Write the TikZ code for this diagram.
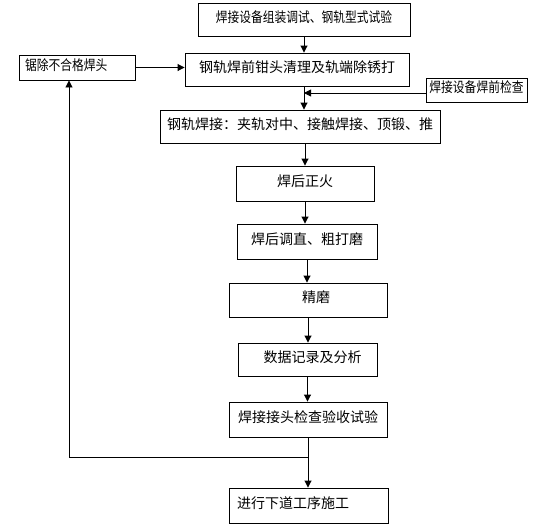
\documentclass[tikz,border=0pt]{standalone}
\usepackage{fontspec}
\setmainfont{Noto Sans CJK SC}
\newfontfamily\cjknarrow[FakeStretch=0.84]{Noto Sans CJK SC}
\usetikzlibrary{arrows.meta, positioning, calc}

\begin{document}
\begin{tikzpicture}[x=1pt, y=-1pt,
	box/.style={draw, line width=0.9pt, inner sep=0pt, text height=11pt, text depth=6pt,
		font=\fontsize{14pt}{16pt}\selectfont},
	arr/.style={line width=0.9pt, -{Triangle[length=7pt, width=7pt]}}]
	\useasboundingbox (0,0) rectangle (556,528);
	% main chain
	\node[box, minimum width=212pt, minimum height=33pt] (prep) at (304,19.5) {\cjknarrow 焊接设备组装调试、钢轨型式试验};
	\node[box, minimum width=224pt, minimum height=33pt] (clean) at (297,69.5) {钢轨焊前钳头清理及轨端除锈打};
	\node[box, minimum width=280pt, minimum height=33pt] (weld) at (300,126.5) {钢轨焊接：夹轨对中、接触焊接、顶锻、推};
	\node[box, minimum width=138pt, minimum height=35pt] (norm) at (305,183.5) {焊后正火};
	\node[box, minimum width=140pt, minimum height=35pt] (straight) at (307,241.5) {焊后调直、粗打磨};
	\node[box, minimum width=158pt, minimum height=34pt] (grind) at (308,300) {\hspace*{16pt}精磨};
	\node[box, minimum width=139pt, minimum height=33pt] (record) at (307.5,359.5) {\hspace*{10pt}数据记录及分析};
	\node[box, minimum width=158pt, minimum height=35pt] (inspect) at (308,419.5) {焊接接头检查验收试验};
	\node[box, minimum height=35pt, inner xsep=8pt, text width=143pt, align=left] (done) at (308.5,505.5) {进行下道工序施工};
	% side boxes
	\node[box, minimum height=25pt, inner xsep=6pt, text width=104pt, align=left] (cut) at (77,67.5) {\cjknarrow 锯除不合格焊头};
	\node[box, minimum width=101pt, minimum height=24pt] (check) at (476.5,90) {\cjknarrow 焊接设备焊前检查};
	\coordinate (back) at (69,457);
	% connectors
	\draw[arr] (prep.south) -- (prep.south |- clean.north);
	\draw[arr] (cut.east) -- (cut.east -| clean.west);
	\draw[arr] (clean.south -| prep.south) -- (weld.north -| prep.south);
	\draw[arr] ([yshift=-3pt]check.west) -- ([yshift=-3pt]check.west -| prep.south);
	\draw[arr] (weld.south -| norm.north) -- (norm.north);
	\draw[arr] (norm.south) -- (norm.south |- straight.north);
	\draw[arr] (straight.south) -- (straight.south |- grind.north);
	\draw[arr] (grind.south) -- (grind.south |- record.north);
	\draw[arr] (record.south) -- (record.south |- inspect.north);
	\draw[arr] (inspect.south) -- (inspect.south |- done.north);
	\draw[arr] (inspect.south |- back) -- (back) -- (back |- cut.south);
\end{tikzpicture}
\end{document}
